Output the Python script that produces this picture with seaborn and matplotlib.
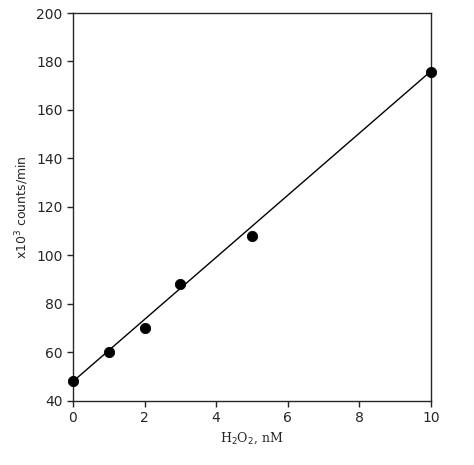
import matplotlib
matplotlib.use("Agg")
import matplotlib.pyplot as plt
import seaborn as sns
import pandas as pd

h2o2 = [0, 1, 2, 3, 5, 10]
counts = [48, 60, 70, 88, 108, 175.5]
fit_x = [0, 10]
fit_y = [48, 176]

sns.set_theme(style="ticks")
plt.rcParams['font.family'] = ['DejaVu Sans']
fig = plt.figure(figsize=(4.74, 4.65), dpi=100)
ax = fig.add_axes([0.154, 0.138, 0.755, 0.834])
sns.lineplot(x=fit_x, y=fit_y, ax=ax, color="black", linewidth=1)
sns.scatterplot(data=pd.DataFrame({"x": h2o2, "y": counts}), x="x", y="y", ax=ax,
                color="black", s=55, edgecolor="black", zorder=3, clip_on=False)
ax.set_xlim(0, 10)
ax.set_ylim(40, 200)
ax.set_xticks(range(0, 11, 2))
ax.set_yticks(range(40, 201, 20))
for s in ax.spines.values():
    s.set_visible(True)
    s.set_linewidth(1)
ax.tick_params(labelsize=10, length=4, width=1)
ax.set_xlabel("H$_2$O$_2$, nM", family="serif", fontsize=9)
ax.set_ylabel("x10$^3$ counts/min", fontsize=9)
fig.savefig("out.png", dpi=100)
